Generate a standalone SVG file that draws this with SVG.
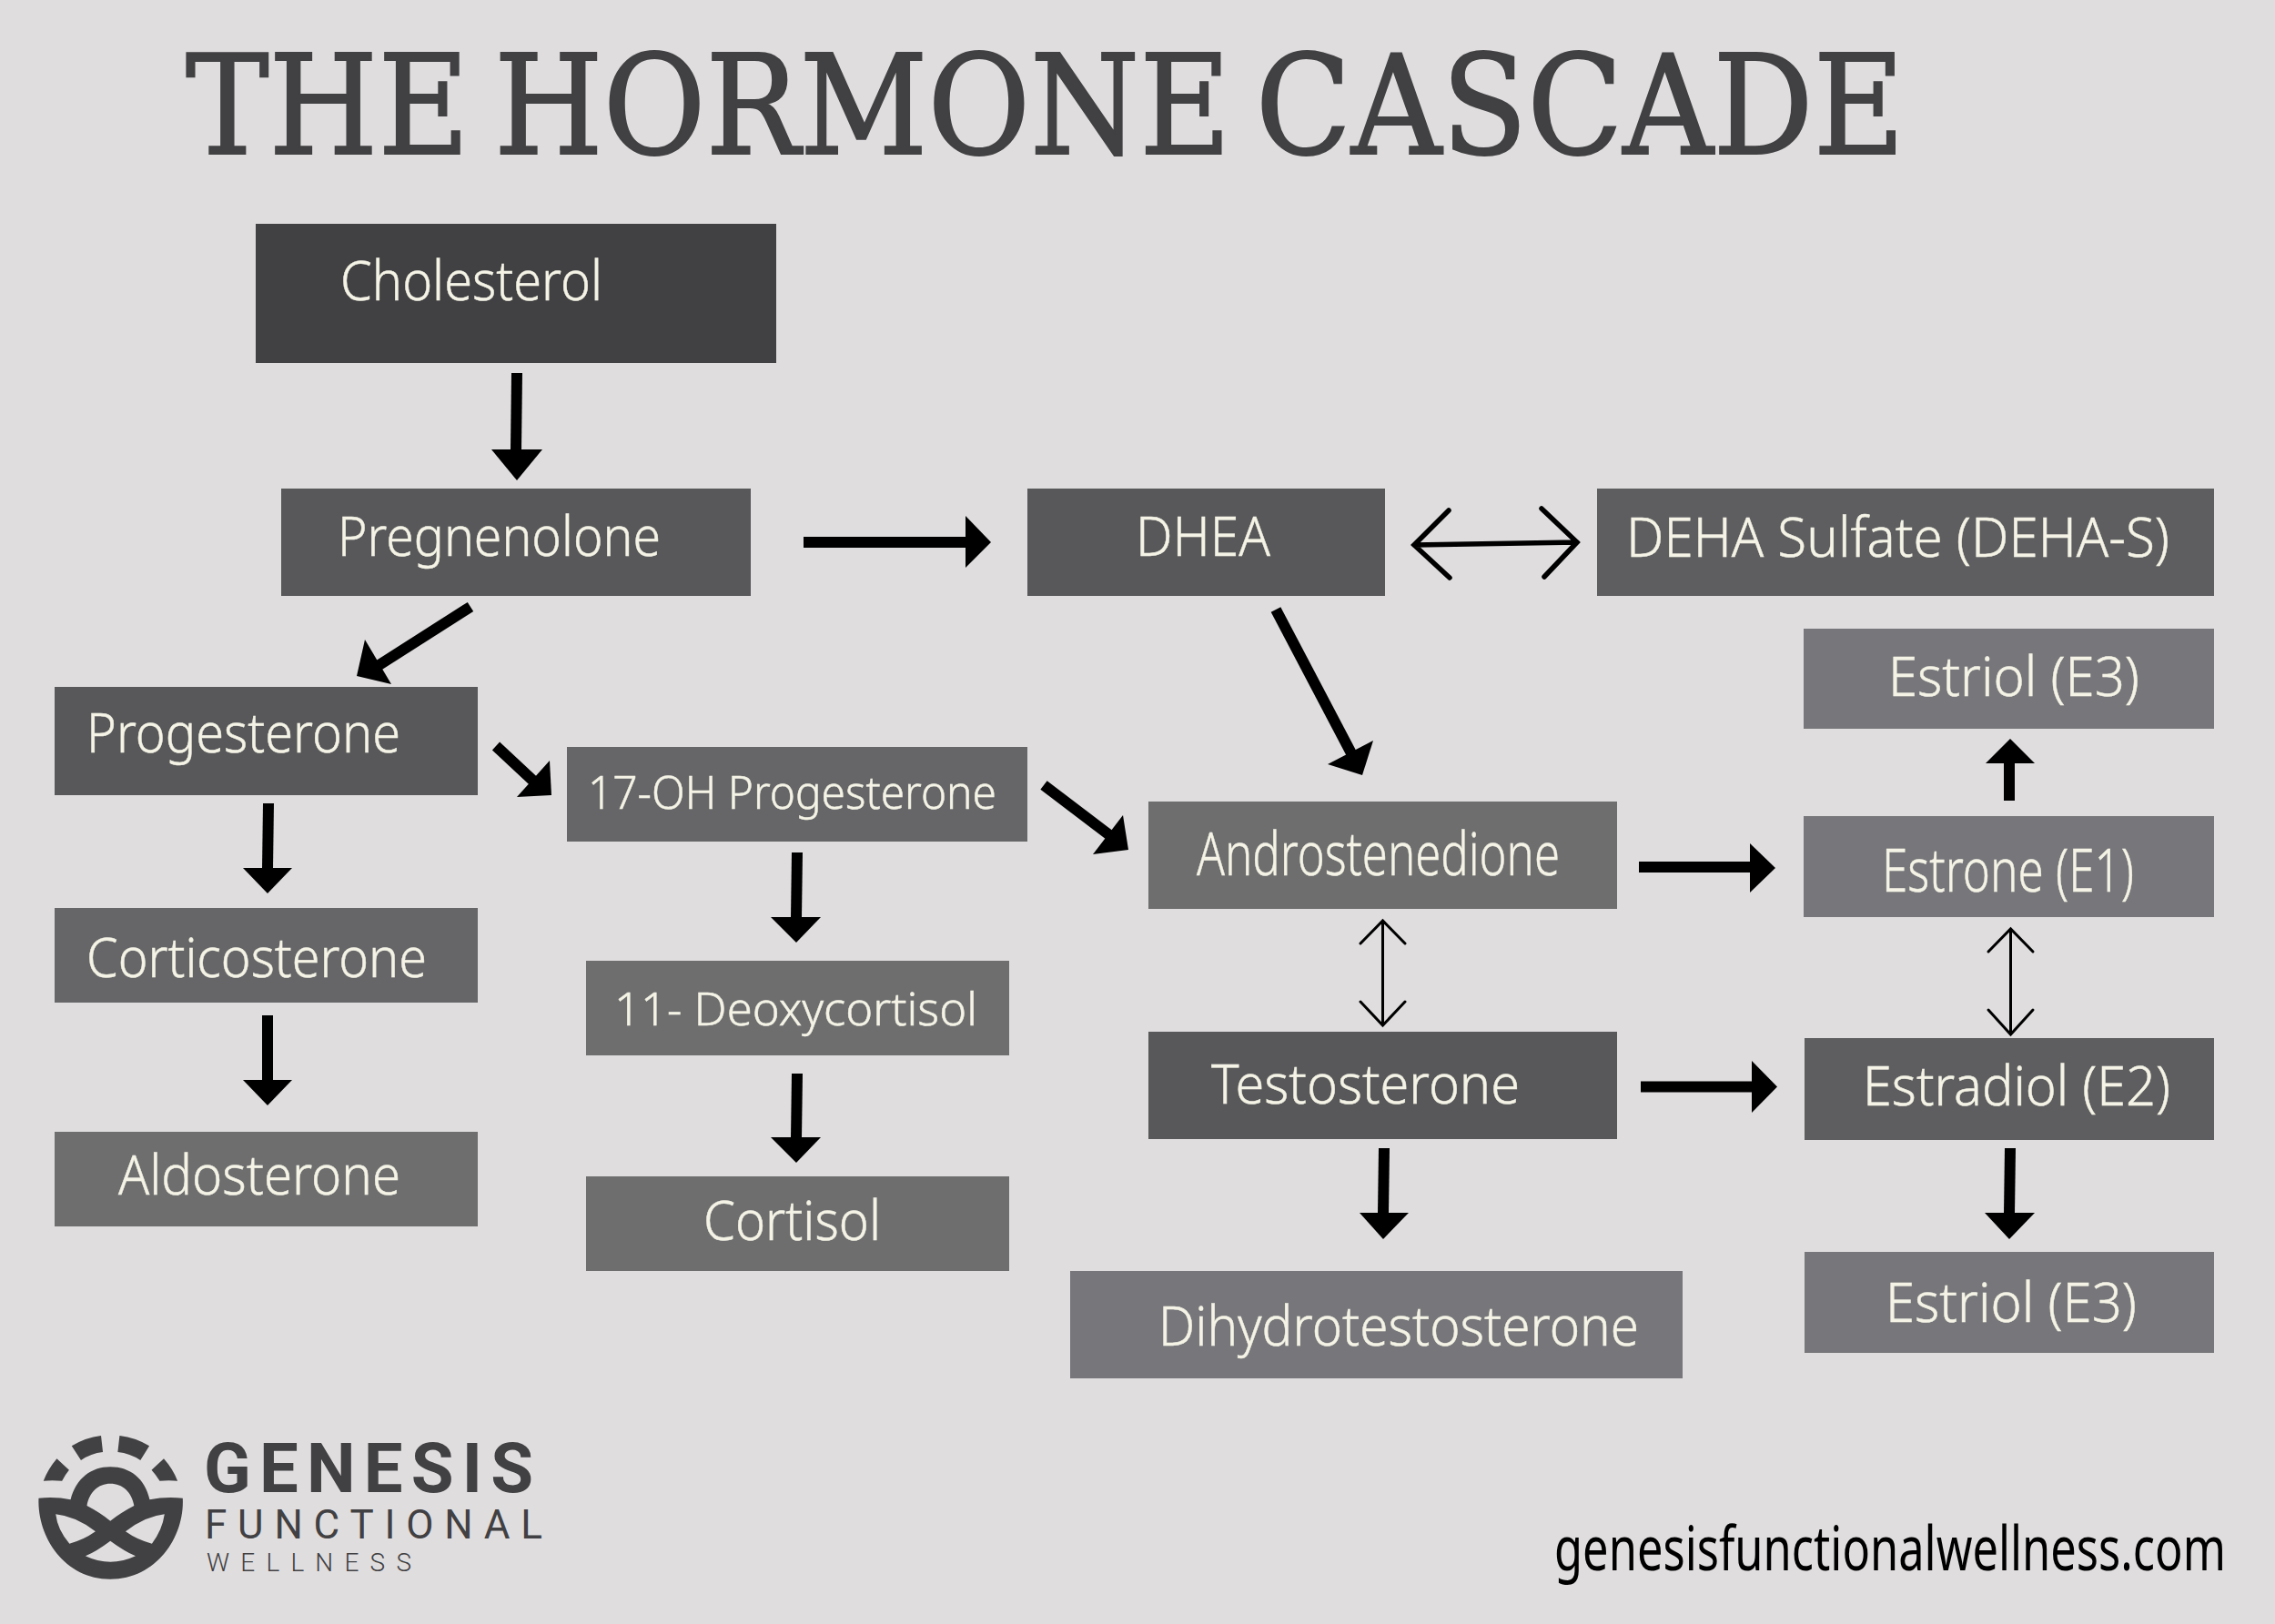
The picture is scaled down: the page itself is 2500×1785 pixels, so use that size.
<svg xmlns="http://www.w3.org/2000/svg" width="2500" height="1785" viewBox="0 0 2500 1785">
<style>
text{font-family:"Noto Sans","Open Sans","Liberation Sans",sans-serif;font-weight:300}
.l{fill:#f4f3e6;stroke:#f4f3e6;stroke-width:.5}
.t{font-size:60px}.m{font-size:50px}.b{font-size:67px}
.c1{fill:#414042}.c2{fill:#58585a}.c3{fill:#5e5e60}.c4{fill:#666668}.c5{fill:#6e6e6f}.c6{fill:#77767a}
.s{stroke:#000;stroke-width:12;fill:none}
.d{stroke:#000;fill:none;stroke-linecap:round;stroke-linejoin:miter}
polygon{fill:#000}
.logo{fill:#414042}
</style>
<rect width="2500" height="1785" fill="#dfddde"/>
<text id="title" x="204" y="169" font-size="151" textLength="1889" lengthAdjust="spacingAndGlyphs" stroke="#414042" stroke-width="2" word-spacing="-18" style="font-family:'DejaVu Serif','Liberation Serif',serif;font-weight:400" fill="#414042">THE HORMONE CASCADE</text>

<g id="node-cholesterol"><rect class="c1" x="281" y="246" width="572" height="153"/><text class="l t" x="374" y="330" textLength="288" lengthAdjust="spacingAndGlyphs">Cholesterol</text></g>
<g id="node-pregnenolone"><rect class="c2" x="309" y="537" width="516" height="118"/><text class="l t" x="371" y="611" textLength="355" lengthAdjust="spacingAndGlyphs">Pregnenolone</text></g>
<g id="node-dhea"><rect class="c2" x="1129" y="537" width="393" height="118"/><text class="l t" x="1248" y="611" textLength="148" lengthAdjust="spacingAndGlyphs">DHEA</text></g>
<g id="node-deha-s"><rect class="c3" x="1755" y="537" width="678" height="118"/><text class="l t" x="1787" y="612" textLength="597" lengthAdjust="spacingAndGlyphs">DEHA Sulfate (DEHA-S)</text></g>
<g id="node-estriol-top"><rect class="c6" x="1982" y="691" width="451" height="110"/><text class="l t" x="2075" y="765" textLength="276" lengthAdjust="spacingAndGlyphs">Estriol (E3)</text></g>
<g id="node-progesterone"><rect class="c2" x="60" y="755" width="465" height="119"/><text class="l t" x="95" y="827" textLength="345" lengthAdjust="spacingAndGlyphs">Progesterone</text></g>
<g id="node-17oh"><rect class="c4" x="623" y="821" width="506" height="104"/><text class="l m" x="646" y="889" textLength="449" lengthAdjust="spacingAndGlyphs">17-OH Progesterone</text></g>
<g id="node-androstenedione"><rect class="c5" x="1262" y="881" width="515" height="118"/><text class="l b" x="1315" y="962" textLength="399" lengthAdjust="spacingAndGlyphs">Androstenedione</text></g>
<g id="node-estrone"><rect class="c6" x="1982" y="897" width="451" height="111"/><text class="l b" x="2068" y="980" textLength="277" lengthAdjust="spacingAndGlyphs">Estrone (E1)</text></g>
<g id="node-corticosterone"><rect class="c4" x="60" y="998" width="465" height="104"/><text class="l t" x="95" y="1074" textLength="374" lengthAdjust="spacingAndGlyphs">Corticosterone</text></g>
<g id="node-11-deoxycortisol"><rect class="c5" x="644" y="1056" width="465" height="104"/><text class="l m" x="675" y="1127" textLength="399" lengthAdjust="spacingAndGlyphs">11- Deoxycortisol</text></g>
<g id="node-testosterone"><rect class="c2" x="1262" y="1134" width="515" height="118"/><text class="l t" x="1331" y="1213" textLength="339" lengthAdjust="spacingAndGlyphs">Testosterone</text></g>
<g id="node-estradiol"><rect class="c3" x="1983" y="1141" width="450" height="112"/><text class="l t" x="2047" y="1215" textLength="338" lengthAdjust="spacingAndGlyphs">Estradiol (E2)</text></g>
<g id="node-aldosterone"><rect class="c5" x="60" y="1244" width="465" height="104"/><text class="l t" x="130" y="1313" textLength="310" lengthAdjust="spacingAndGlyphs">Aldosterone</text></g>
<g id="node-cortisol"><rect class="c5" x="644" y="1293" width="465" height="104"/><text class="l t" x="773" y="1363" textLength="195" lengthAdjust="spacingAndGlyphs">Cortisol</text></g>
<g id="node-estriol-bottom"><rect class="c6" x="1983" y="1376" width="450" height="111"/><text class="l t" x="2072" y="1453" textLength="276" lengthAdjust="spacingAndGlyphs">Estriol (E3)</text></g>
<g id="node-dht"><rect class="c6" x="1176" y="1397" width="673" height="118"/><text class="l t" x="1273" y="1479" textLength="528" lengthAdjust="spacingAndGlyphs">Dihydrotestosterone</text></g>

<g id="connectors">
<line class="s" x1="568" y1="410" x2="567" y2="495"/><polygon points="540,494 596,494 568,528"/>
<line class="s" x1="517" y1="667" x2="415" y2="732"/><polygon points="401,703 392,743 430,752"/>
<line class="s" x1="545" y1="820" x2="590" y2="862"/><polygon points="604,836 568,876 606,874"/>
<line class="s" x1="295" y1="883" x2="294" y2="955"/><polygon points="267,954 321,954 294,982"/>
<line class="s" x1="294" y1="1116" x2="294" y2="1188"/><polygon points="267,1187 321,1187 294,1215"/>
<line class="s" x1="876" y1="937" x2="875" y2="1009"/><polygon points="847,1008 902,1008 875,1036"/>
<line class="s" x1="876" y1="1180" x2="875" y2="1251"/><polygon points="847,1250 902,1250 875,1278"/>
<line class="s" x1="1147" y1="863" x2="1222" y2="920"/><polygon points="1234,896 1201,939 1240,934"/>
<line class="s" x1="883" y1="596" x2="1062" y2="596"/><polygon points="1061,567 1089,596 1061,624"/>
<line class="s" x1="1402" y1="670" x2="1485" y2="828"/><polygon points="1509,814 1459,840 1497,852"/>
<line class="s" x1="1801" y1="953" x2="1924" y2="953"/><polygon points="1923,927 1951,954 1923,981"/>
<line class="s" x1="2208" y1="880" x2="2208" y2="838"/><polygon points="2182,839 2209,812 2236,839"/>
<line class="s" x1="1803" y1="1194.500" x2="1926" y2="1194.500"/><polygon points="1925,1166 1953,1194.500 1925,1223"/>
<line class="s" x1="1521" y1="1262" x2="1520" y2="1334"/><polygon points="1494,1333 1548,1333 1520,1362"/>
<line class="s" x1="2209" y1="1262" x2="2208" y2="1334"/><polygon points="2181,1333 2236,1333 2208,1362"/>
<path class="d" stroke-width="5.500" d="M1592,561 L1554,599 L1593,635 M1554,599 L1733,596 M1694,559 L1733,596 L1697,634"/>
<path class="d" stroke-width="3" d="M1495,1037 L1519.500,1012 L1544,1037 M1519.500,1012 L1519.500,1127 M1495,1101 L1519.500,1127 L1544,1101"/>
<path class="d" stroke-width="3" d="M2185,1046 L2209.500,1021 L2234,1046 M2209.500,1021 L2209.500,1137 M2185,1110 L2209.500,1137 L2234,1110"/>
</g>

<g id="logo">
<g transform="translate(0,1520) scale(.40816,.33333)">
<path class="logo" d="M193,208 Q230,180 272,174 L277,228 Q245,232 218,255 Z"/>
<path class="logo" d="M322,174 Q365,180 402,208 L378,255 Q350,232 317,228 Z"/>
<path class="logo" d="M153,250 L186,287 Q175,303 167,323 Q140,320 117,323 Q130,283 153,250 Z"/>
<path class="logo" d="M441,250 L408,287 Q420,303 430,323 Q455,320 478,323 Q465,283 441,250 Z"/>
<path class="logo" fill-rule="evenodd" d="M104,380 Q150,374 190,385 C205,315 245,277 297,277 C350,277 390,315 403,385 Q445,374 492,380 C497,510 420,647 297,647 C175,647 100,510 104,380 Z M234,405 C240,360 265,332 297,332 C330,332 355,360 361,405 Q325,428 297,455 Q270,428 234,405 Z M150,433 Q205,440 257,490 Q225,518 187,530 Q155,485 150,433 Z M443,433 Q390,440 338,490 Q370,518 409,530 Q437,485 443,433 Z M297,521 Q260,555 230,571 Q297,610 365,571 Q335,555 297,521 Z"/>
</g>
<text x="224" y="1640" font-size="76" textLength="362" lengthAdjust="spacing" style="font-family:Roboto,'Liberation Sans',sans-serif;font-weight:700" fill="#414042">GENESIS</text>
<text x="225" y="1691" font-size="44" textLength="371" lengthAdjust="spacing" style="font-family:Roboto,'Liberation Sans',sans-serif;font-weight:400" fill="#414042">FUNCTIONAL</text>
<text x="227" y="1727" font-size="28" textLength="225" lengthAdjust="spacing" style="font-family:Roboto,'Liberation Sans',sans-serif;font-weight:300" fill="#414042">WELLNESS</text>
</g>
<text id="url" transform="translate(1708,1726) scale(.72,1)" x="0" y="0" font-size="68" textLength="1025" lengthAdjust="spacingAndGlyphs" style="font-weight:400" fill="#000">genesisfunctionalwellness.com</text>
</svg>
